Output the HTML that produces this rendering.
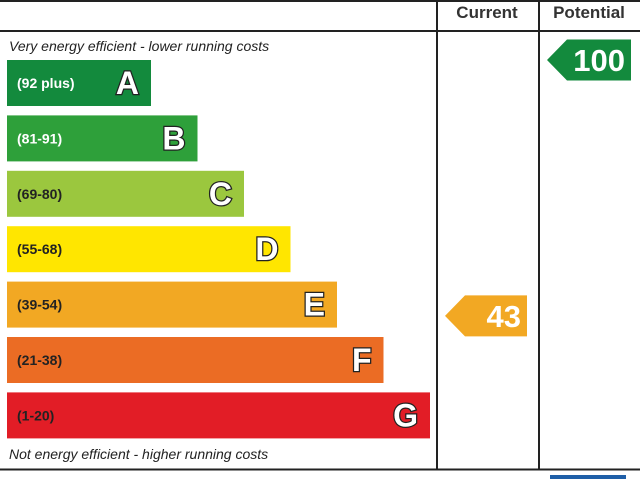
<!DOCTYPE html>
<html><head><meta charset="utf-8"><style>
body{margin:0;background:#fff}svg{display:block}
text{font-family:"Liberation Sans",sans-serif}
</style></head><body>
<svg id="c" width="640" height="479" viewBox="0 0 640 479">
<g stroke="#222" stroke-width="2" fill="none">
<line x1="0" y1="1" x2="640" y2="1"/>
<line x1="0" y1="31" x2="640" y2="31"/>
<line x1="0" y1="469.5" x2="640" y2="469.5"/>
<line x1="437" y1="0" x2="437" y2="470"/>
<line x1="539" y1="0" x2="539" y2="470"/>
</g>
<rect x="550" y="475" width="76" height="4" fill="#1f5fa8"/>
<text x="487" y="18" text-anchor="middle" font-size="17" font-weight="bold" fill="#333">Current</text>
<text x="589" y="18" text-anchor="middle" font-size="17" font-weight="bold" fill="#333">Potential</text>
<text x="9" y="51" font-size="14" font-style="italic" fill="#222">Very energy efficient - lower running costs</text>
<text x="9" y="459" font-size="14" font-style="italic" fill="#222">Not energy efficient - higher running costs</text>
<g id="bars"></g>
<g id="arrows"></g>
</svg>
<script>
const bands=["A","B","C","D","E","F","G"];
const ranges=["(92 plus)","(81-91)","(69-80)","(55-68)","(39-54)","(21-38)","(1-20)"];
const minScores=[92,81,69,55,39,21,1];
const colors=["#138a3d","#2ea03a","#9bc73e","#ffe600","#f2a823","#eb6c24","#e21d26"];
const currentScore=43;
const potentialScore=100;
const NS="http://www.w3.org/2000/svg";
function mk(t,a,p){const e=document.createElementNS(NS,t);for(const k in a)e.setAttribute(k,a[k]);p.appendChild(e);return e;}
const bars=document.getElementById('bars');
const top0=60,pitch=55.4,bh=46;
function bandIndex(s){for(let i=0;i<minScores.length;i++)if(s>=minScores[i])return i;return 6;}
function yOf(i){return top0+i*pitch;}
function yScore(s){return 60+(100-s)*4.49;}
bands.forEach((b,i)=>{
 const w=144+i*46.5,y=yOf(i);
 const r=mk('rect',{x:7,y:y,width:w,height:bh,fill:colors[i]},bars);
 
 
 const t=mk('text',{x:17,y:y+bh/2+5,'font-size':14,'font-weight':'bold',fill:i==0||i==1?'#fff':'#222'},bars);
 t.textContent=ranges[i];
 
 
 const L=mk('text',{x:7+w-12,y:y+bh/2+11,'text-anchor':'end','font-size':32,'font-weight':'bold',fill:'#fff',stroke:'#222','stroke-width':2.5,'paint-order':'stroke'},bars);
 L.textContent=b;
 
 
});
const arrows=document.getElementById('arrows');
function arrow(x0,x1,score,name){
 const i=bandIndex(score),h=41,y=yScore(score)-h/2;
 const p=mk('polygon',{points:`${x0},${y+h/2} ${x0+20},${y} ${x1},${y} ${x1},${y+h} ${x0+20},${y+h}`,fill:colors[i]},arrows);
 
 
 const t=mk('text',{x:x1-6,y:y+h/2+11,'text-anchor':'end','font-size':31,'font-weight':'bold',fill:'#fff'},arrows);
 t.textContent=score;
 
 
}
arrow(445,527,currentScore,'current');
arrow(547,631,potentialScore,'potential');
</script>
</body></html>
